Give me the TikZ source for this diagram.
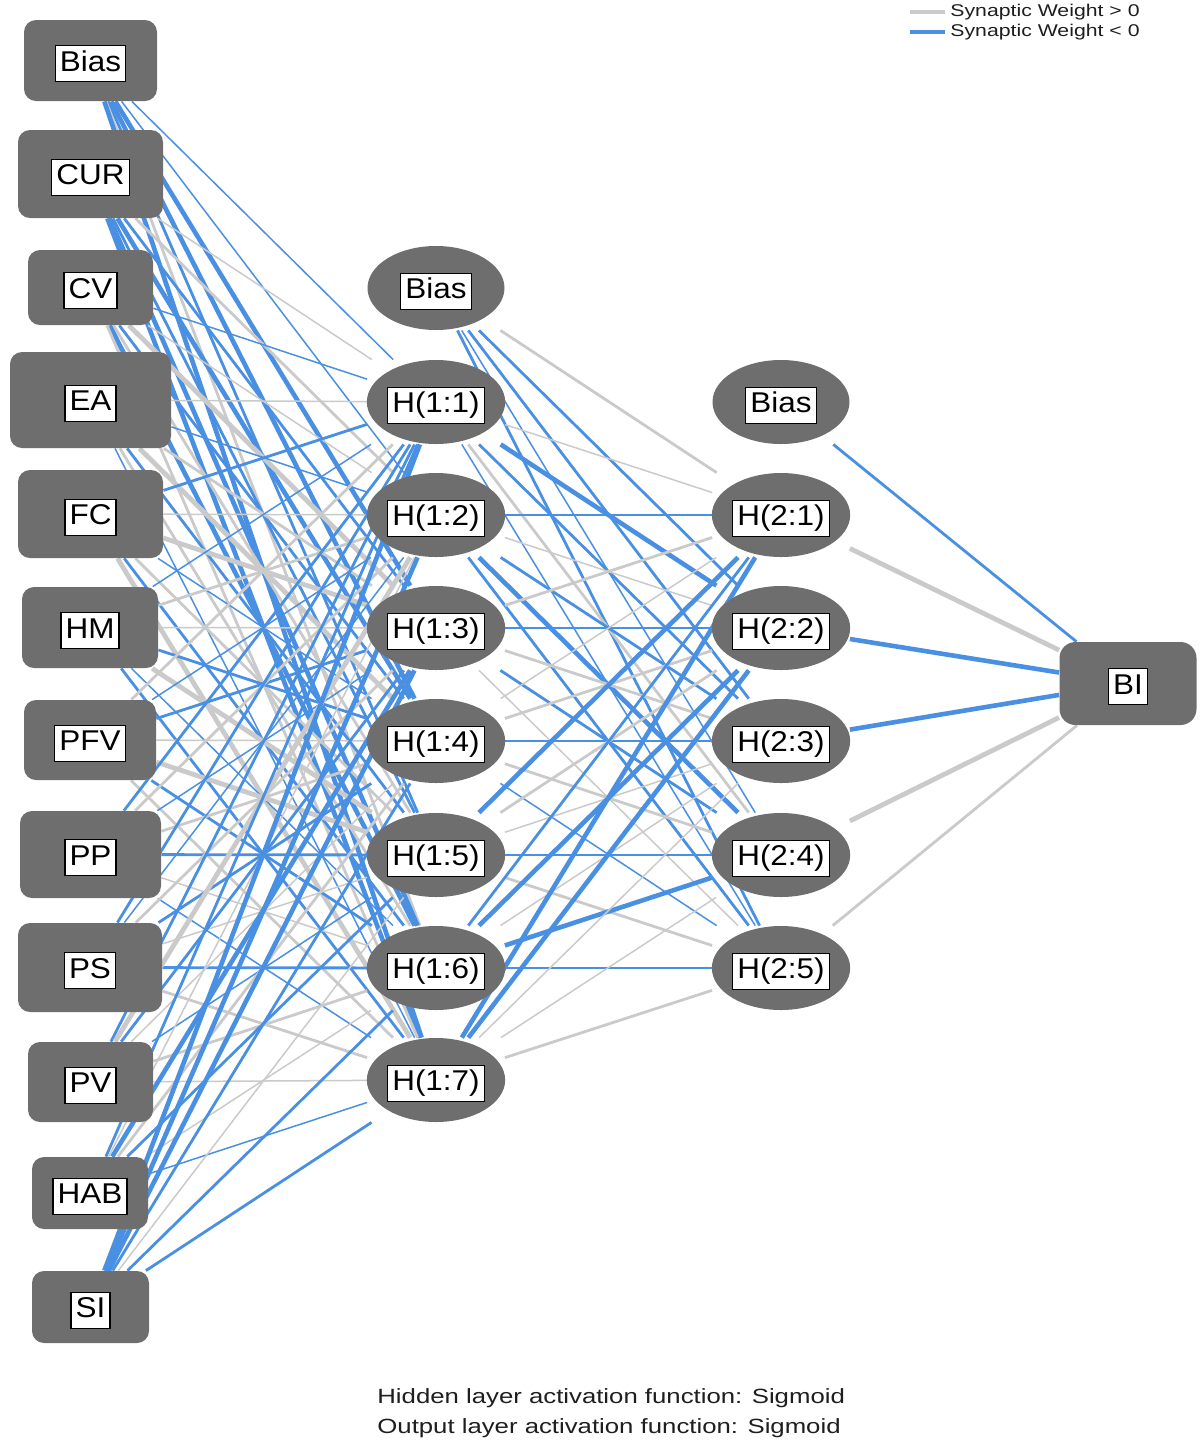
\documentclass[tikz,border=0pt]{standalone}
\usepackage{fontspec}
\setmainfont{Liberation Sans}
\newfontfamily\labfont{Liberation Sans}[FakeStretch=1.1]
\newfontfamily\capfont{Liberation Sans}[FakeStretch=1.25]
\usetikzlibrary{backgrounds,shapes.geometric}
\definecolor{nodegray}{RGB}{110,110,110}
\definecolor{posgray}{RGB}{202,202,202}
\definecolor{negblue}{RGB}{74,144,226}
\definecolor{txtdark}{RGB}{30,30,30}
\newsavebox\lblbox
\newcommand{\lbl}[1]{\sbox\lblbox{\setlength{\fboxsep}{2pt}\setlength{\fboxrule}{0.6pt}\fcolorbox{black}{white}{\labfont\fontsize{14.3}{16}\selectfont\vphantom{H()}#1}}\raisebox{\dimexpr-\ht\lblbox/2+\dp\lblbox/2-1.6pt\relax}[0pt][0pt]{\usebox\lblbox}}
\newcommand{\fanin}[3]{\foreach \s [count=\j] in {#3} {\draw[\s] (#1) -- (#2\j);}}
\begin{document}
\begin{tikzpicture}[x=0.5pt,y=-0.5pt,
  inbox/.style={fill=nodegray, draw=none, rounded corners=6pt, inner sep=0pt},
  hid/.style={ellipse, fill=nodegray, draw=none, minimum width=68.5pt, minimum height=42pt, inner sep=0pt},
  hb/.style={rectangle, draw=none, fill=none, minimum width=68.5pt, minimum height=42pt, inner sep=0pt},
  gA/.style={posgray, line width=0.75pt},
  gB/.style={posgray, line width=1.4pt},
  gC/.style={posgray, line width=2.4pt},
  bA/.style={negblue, line width=0.75pt},
  bB/.style={negblue, line width=1.4pt},
  bC/.style={negblue, line width=2.3pt},
  captxt/.style={anchor=west, inner sep=0pt, text=txtdark, font=\capfont\fontsize{10.3}{12}\selectfont},
  legtxt/.style={anchor=west, inner sep=0pt, text=txtdark, font=\capfont\fontsize{8.5}{10}\selectfont}]
\useasboundingbox (0,0) rectangle (1200,1442);

% input layer
\node[inbox, minimum width=66.5pt, minimum height=40.5pt] (in1) at (90.5,60.5) {\lbl{Bias}};
\node[inbox, minimum width=72.5pt, minimum height=44pt] (in2) at (90.5,174) {\lbl{CUR}};
\node[inbox, minimum width=62.5pt, minimum height=37.5pt] (in3) at (90.5,287.5) {\lbl{CV}};
\node[inbox, minimum width=80.5pt, minimum height=48pt] (in4) at (90.5,400) {\lbl{EA}};
\node[inbox, minimum width=72.5pt, minimum height=44pt] (in5) at (90.5,514) {\lbl{FC}};
\node[inbox, minimum width=68pt, minimum height=40.5pt] (in6) at (90,627.5) {\lbl{HM}};
\node[inbox, minimum width=66pt, minimum height=40pt] (in7) at (90,740) {\lbl{PFV}};
\node[inbox, minimum width=70.5pt, minimum height=43.5pt] (in8) at (90.5,854.5) {\lbl{PP}};
\node[inbox, minimum width=72pt, minimum height=44.5pt] (in9) at (90,967.5) {\lbl{PS}};
\node[inbox, minimum width=62.5pt, minimum height=40pt] (in10) at (90.5,1082) {\lbl{PV}};
\node[inbox, minimum width=58pt, minimum height=36pt] (in11) at (90,1193) {\lbl{HAB}};
\node[inbox, minimum width=58.5pt, minimum height=36pt] (in12) at (90.5,1307) {\lbl{SI}};

% hidden layer 1
\node[hid] (h10) at (436,288) {\lbl{Bias}};
\node[hid] (h11) at (436,402) {\lbl{H(1:1)}};
\node[hid] (h12) at (436,515) {\lbl{H(1:2)}};
\node[hid] (h13) at (436,628) {\lbl{H(1:3)}};
\node[hid] (h14) at (436,741) {\lbl{H(1:4)}};
\node[hid] (h15) at (436,855) {\lbl{H(1:5)}};
\node[hid] (h16) at (436,968) {\lbl{H(1:6)}};
\node[hid] (h17) at (436,1080) {\lbl{H(1:7)}};

% hidden layer 2
\node[hid] (h20) at (781,402) {\lbl{Bias}};
\node[hid] (h21) at (781,515) {\lbl{H(2:1)}};
\node[hid] (h22) at (781,628) {\lbl{H(2:2)}};
\node[hid] (h23) at (781,741) {\lbl{H(2:3)}};
\node[hid] (h24) at (781,855) {\lbl{H(2:4)}};
\node[hid] (h25) at (781,968) {\lbl{H(2:5)}};

% bounding frames of the hidden neurons (connectors stop at these)
\foreach \k in {0,...,7} {\node[hb] (b1\k) at (h1\k.center) {};}
\foreach \k in {0,...,5} {\node[hb] (b2\k) at (h2\k.center) {};}

% output
\node[inbox, rounded corners=8pt, minimum width=68.5pt, minimum height=41.5pt] (out) at (1128,683.5) {\lbl{BI}};

\begin{pgfonlayer}{background}
\fanin{in1}{b1}{bA,bA,bC,bC,bB,gB,bC}
\fanin{in2}{b1}{gA,gB,bB,bC,bB,bC,bC}
\fanin{in3}{b1}{bA,gA,gC,bB,gB,bC,gB}
\fanin{in4}{b1}{gA,bA,gB,gC,bB,gB,bA}
\fanin{in5}{b1}{bB,gA,gC,bA,gB,bB,gC}
\fanin{in6}{b1}{bA,gB,gA,bB,gC,bA,bB}
\fanin{in7}{b1}{gB,bA,bB,gA,gC,bB,gB}
\fanin{in8}{b1}{bB,gB,bA,gB,bB,gA,bA}
\fanin{in9}{b1}{bB,bA,gB,bB,gA,bB,gB}
\fanin{in10}{b1}{bB,gC,bB,gA,bA,gB,gA}
\fanin{in11}{b1}{bB,gA,bC,gB,bB,gA,bA}
\fanin{in12}{b1}{bC,bC,bC,bB,gA,bB,bB}
\fanin{b10}{b2}{gB,bB,bB,bA,bB}
\fanin{b11}{b2}{gA,bC,bB,gB,bA}
\fanin{b12}{b2}{bB,gA,bB,bC,bB}
\fanin{b13}{b2}{gB,bB,gB,bB,gA}
\fanin{b14}{b2}{gA,gB,bB,gB,bA}
\fanin{b15}{b2}{bC,gB,gA,bB,gB}
\fanin{b16}{b2}{bB,bC,gA,bC,bB}
\fanin{b17}{b2}{bC,bC,gA,gA,gB}
\draw[bB] (b20) -- (out);
\draw[gC] (b21) -- (out);
\draw[bC] (b22) -- (out);
\draw[bC] (b23) -- (out);
\draw[gC] (b24) -- (out);
\draw[gB] (b25) -- (out);
\end{pgfonlayer}

% legend
\coordinate (l1a) at (910,12);
\coordinate (l1b) at (945,12);
\coordinate (l2a) at (910,32);
\coordinate (l2b) at (945,32);
\draw[posgray, line width=1.6pt] (l1a) -- (l1b);
\draw[negblue, line width=1.6pt] (l2a) -- (l2b);
\node[legtxt] (leg1) at (950,12) {Synaptic Weight > 0};
\node[legtxt] (leg2) at (950,32) {Synaptic Weight < 0};

% footer
\node[captxt] (cap1) at (377,1398) {Hidden layer activation function: Sigmoid};
\node[captxt] (cap2) at (377,1428) {Output layer activation function: Sigmoid};
\end{tikzpicture}
\end{document}
